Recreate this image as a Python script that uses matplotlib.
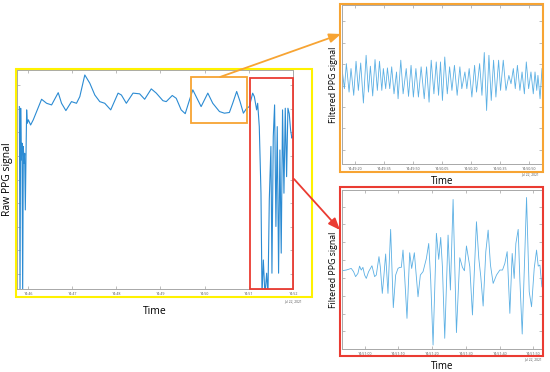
import matplotlib
matplotlib.use('Agg')
import matplotlib.pyplot as plt
from matplotlib.patches import Rectangle, FancyArrowPatch

plt.rcParams['font.family'] = ['Open Sans', 'DejaVu Sans']

# raw PPG, seconds after 14:45:00
raw_t = [48.3, 49.2, 50.1, 51.0, 51.9, 52.8, 53.7, 54.6, 55.5, 56.4, 57.3, 58.2, 59.1, 60.5, 63.6,
         67.2, 78.5, 85.3, 92.1, 101.1, 105.6, 111.5, 119.1, 125.9, 130.4, 137.2, 144.0, 150.8,
         157.5, 164.3, 172.4, 182.4, 186.9, 193.6, 202.7, 211.7, 218.5, 227.5, 234.3, 243.3,
         247.8, 256.0, 261.4, 268.1, 273.6, 279.4, 283.9, 290.7, 295.2, 304.3, 311.0, 320.1,
         326.8, 333.6, 338.1, 343.5, 348.1, 352.6, 357.1, 360.7, 365.2, 367.5, 370.6, 372.0,
         374.2, 376.5, 377.9, 379.7, 381.9, 384.2, 386.0, 387.8, 390.0, 391.4, 393.2, 395.0,
         396.8, 398.6, 400.4, 402.2, 404.0, 405.8, 407.7, 409.5, 411.3, 413.1, 414.9, 416.7,
         418.5, 419.4]
raw_v = [7.09, -0.9, 7.02, 4.83, 5.54, -0.9, 5.40, 4.69, 5.11, 2.71, 4.97, 6.95, 6.38, 6.53, 6.31,
         6.53, 7.40, 7.23, 7.16, 7.68, 7.23, 6.92, 7.30, 7.23, 7.51, 8.43, 8.08, 7.58,
         7.30, 7.23, 6.95, 7.66, 7.58, 7.23, 7.66, 7.63, 7.40, 7.84, 7.66, 7.34,
         7.30, 7.56, 7.44, 6.95, 6.79, 7.37, 7.80, 7.37, 7.09, 7.66, 7.23, 6.88,
         6.81, 6.84, 7.23, 7.73, 7.30, 6.81, 7.02, 7.09, 7.66, 7.51, 6.95, 7.23,
         6.24, 3.42, -0.9, 0.59, -0.9, 0.03, -0.9, 3.14, 5.40, 0.03, 5.82, 7.16,
         2.01, 6.24, 0.03, 5.25, 0.88, 6.95, 3.42, 7.02, 4.12, 7.02, 6.79, 6.10,
         5.75, 5.82]
raw_ticks = [60, 120, 180, 240, 300, 360, 420]
raw_labels = ['14:46', '14:47', '14:48', '14:49', '14:50', '14:51', '14:52']

# filtered segment 1, seconds after 14:49:00
f1_t = [13.6, 14.7, 15.7, 17.1, 18.1, 19.5, 20.7, 21.9, 23.1, 24.5, 25.9, 27.1, 28.1, 29.3,
        30.5, 31.7, 32.8, 34.0, 34.8, 36.0, 36.9, 38.1, 39.1, 40.3, 41.6, 42.4, 43.8, 45.0,
        46.6, 47.8, 49.1, 50.3, 51.6, 52.9, 54.3, 55.9, 57.1, 58.4, 59.5, 60.9, 62.1, 63.3,
        64.3, 65.3, 66.5, 67.8, 69.0, 70.2, 71.5, 72.9, 74.3, 75.3, 76.9, 77.9, 79.1, 80.5,
        81.9, 82.9, 84.5, 85.7, 86.9, 88.1, 89.3, 90.5, 91.7, 92.9, 94.3, 95.3, 96.7, 98.1,
        99.6, 100.7, 101.9, 102.9, 104.0, 105.3, 106.4, 107.6, 108.6, 109.8, 111.0, 112.2,
        113.1, 114.0, 114.6, 115.7, 116.7]
f1_v = [0.69, -0.14, 1.03, -0.30, 0.80, -0.45, 1.14, -0.22, 1.06, -0.81, 1.42, -0.30, 0.91, -0.48,
        1.22, -0.22, 1.14, -0.22, 0.80, -0.14, 0.83, -0.14, 0.88, -0.38, 0.64, -0.61, 1.19, -0.38,
        0.80, -0.50, 0.95, -0.53, 0.80, -0.53, 0.88, -0.61, 0.88, -0.77, 1.19, -0.38, 1.11, -0.45,
        1.11, -0.69, 1.34, -0.38, 0.88, -0.22, 0.95, -0.45, 0.88, -0.14, 0.64, -0.14, 0.80, -0.53,
        0.95, -0.30, 1.03, -0.45, 1.55, -1.16, 1.42, -0.69, 1.19, -0.53, 1.19, -0.22, 1.19, -0.22,
        0.48, 0.09, 0.80, -0.14, 0.95, -0.22, 0.64, -0.38, 1.11, -0.14, 0.64, -0.38, 0.64, -0.22,
        0.48, -0.61, 0.80]
f1_ticks = [20, 35, 50, 65, 80, 95, 110]
f1_labels = ['14:49:20', '14:49:35', '14:49:50', '14:50:05', '14:50:20', '14:50:35', '14:50:50']

# filtered segment 2, seconds after 14:51:00
f2_t = [-6.73, -5.45, -3.96, -3.27, -2.67, -1.98, -1.49, -0.99, -0.50, 0.0, 0.50, 1.19, 2.18,
        2.97, 3.47, 4.26, 4.65, 5.25, 5.74, 6.24, 6.93, 7.72, 8.51, 9.21, 9.90, 10.40, 10.89,
        11.39, 11.88, 12.57, 13.37, 13.96, 14.75, 15.84, 16.53, 17.33, 18.32, 19.01, 19.60,
        20.30, 21.29, 21.98, 22.57, 23.07, 23.76, 24.75, 25.44, 26.24, 27.23, 28.22, 29.01,
        29.60, 30.20, 31.19, 31.98, 33.17, 33.86, 34.45, 35.15, 35.94, 36.63, 37.32, 38.12,
        39.11, 40.10, 40.89, 41.58, 42.27, 43.07, 43.76, 44.35, 44.85, 45.54, 46.04, 46.73,
        47.52, 48.02, 48.81, 49.50, 50.29, 50.99, 51.48, 51.98, 52.57]
f2_v = [-0.60, -0.56, -0.47, -0.65, -0.93, -0.75, -0.34, -0.56, -0.41, -0.84, -1.03, -0.65, -0.32,
        -0.93, -0.84, 0.19, -0.37, -1.87, -0.84, 0.34, -1.87, 1.72, -2.67, -0.84, -0.47, -0.41, -0.41,
        0.56, -0.93, -3.27, 0.41, -0.47, 0.41, -2.06, -0.84, -0.65, 0.09, 0.93, -1.12,
        -4.77, 1.50, 0.04, 1.27, -0.37, -4.39, 1.40, -1.68, 3.40, -4.07, 0.13, -0.41,
        -0.60, 0.79, -0.37, -3.08, 2.15, 0.09, -0.93, -2.58, 0.47, 1.68, -0.28, -1.31,
        -0.84, -0.56, -0.56, -0.19, 0.47, -2.99, 0.37, -1.03, 0.93, 1.72, -1.12, -4.15,
        0.47, 3.51, -1.78, -2.62, -0.47, 0.56, -0.34, -0.28, -1.50]
f2_ticks = [0, 10, 20, 30, 40, 50]
f2_labels = ['14:51:00', '14:51:10', '14:51:20', '14:51:30', '14:51:40', '14:51:50']

date_label = 'Jul 22, 2021'

# zoom windows drawn on the raw plot (seconds after 14:45:00, signal units)
orange_win = (282, 358, 6.40, 8.35)
red_win = (361.6, 420, -0.64, 8.32)

W, H = 550, 372
fig = plt.figure(figsize=(W / 100, H / 100), dpi=100)


def fx(px):
    return px / W


def fy(py):
    return 1 - py / H


def style(ax, ticks, labels, yticks):
    ax.set_xticks(ticks)
    ax.set_xticklabels(labels)
    ax.set_yticks(yticks)
    ax.set_yticklabels([])
    ax.tick_params(direction='in', length=2, width=0.4, colors='#8a8a8a',
                   labelsize=2.6, labelcolor='#555555', pad=2,
                   top=True, right=True)
    for s in ax.spines.values():
        s.set_color('#a8a8a8')
        s.set_linewidth(0.7)


ax0 = fig.add_axes([fx(17), fy(289), fx(293) - fx(17), fy(70) - fy(289)])
ax0.plot(raw_t, raw_v, color='#2b8bd3', lw=0.8)
ax0.set_xlim(45.1, 420)
ax0.set_ylim(-0.64, 8.64)
style(ax0, raw_ticks, raw_labels, range(0, 9))
ax0.set_ylabel('Raw PPG signal', fontsize=7.5, labelpad=1)
ax0.set_xlabel('Time', fontsize=7.5, labelpad=7)
ax0.text(1.0, -0.045, date_label, transform=ax0.transAxes, fontsize=2.4,
         ha='center', va='top', color='#555555')
ax0.add_patch(Rectangle((orange_win[0], orange_win[2]), orange_win[1] - orange_win[0],
                        orange_win[3] - orange_win[2], fill=False, ec='#f7a433', lw=1.3,
                        clip_on=False, zorder=5))
ax0.add_patch(Rectangle((red_win[0], red_win[2]), red_win[1] - red_win[0],
                        red_win[3] - red_win[2], fill=False, ec='#ea3b32', lw=1.3,
                        clip_on=False, zorder=5))

ax1 = fig.add_axes([fx(342), fy(164), fx(542) - fx(342), fy(5) - fy(164)])
ax1.plot(f1_t, f1_v, color='#5cb0e4', lw=0.6)
ax1.set_xlim(13.45, 116.7)
ax1.set_ylim(-3.66, 3.77)
style(ax1, f1_ticks, f1_labels, range(-3, 4))
ax1.set_ylabel('Filtered PPG signal', fontsize=6.3, labelpad=1)
ax1.set_xlabel('Time', fontsize=7, labelpad=4)
ax1.text(0.985, -0.05, date_label, transform=ax1.transAxes, fontsize=2.4,
         ha='right', va='top', color='#555555')

ax2 = fig.add_axes([fx(342), fy(349), fx(542) - fx(342), fy(190) - fy(349)])
ax2.plot(f2_t, f2_v, color='#5cb0e4', lw=0.6)
ax2.set_xlim(-6.7, 52.6)
ax2.set_ylim(-4.99, 3.93)
style(ax2, f2_ticks, f2_labels, range(-4, 4))
ax2.set_ylabel('Filtered PPG signal', fontsize=6.3, labelpad=1)
ax2.set_xlabel('Time', fontsize=7, labelpad=4)
ax2.text(1.0, -0.05, date_label, transform=ax2.transAxes, fontsize=2.4,
         ha='right', va='top', color='#555555')

# outer frames
for (x0, y0, x1, y1, c) in [(16, 69, 312, 297, '#fff200'),
                            (340, 4, 543, 172, '#f7a433'),
                            (340, 187, 543, 356, '#ea3b32')]:
    fig.add_artist(Rectangle((fx(x0), fy(y1)), fx(x1) - fx(x0), fy(y0) - fy(y1),
                             fill=False, ec=c, lw=1.5, transform=fig.transFigure))

# arrows
fig.add_artist(FancyArrowPatch((fx(220), fy(77)), (fx(341), fy(34)),
                               transform=fig.transFigure, color='#f7a433', lw=1.3,
                               arrowstyle='-|>,head_length=7,head_width=2.8',
                               shrinkA=0, shrinkB=0))
fig.add_artist(FancyArrowPatch((fx(294), fy(179)), (fx(340), fy(230)),
                               transform=fig.transFigure, color='#ea3b32', lw=1.3,
                               arrowstyle='-|>,head_length=7,head_width=2.8',
                               shrinkA=0, shrinkB=0))

fig.savefig('out.png', dpi=100)
